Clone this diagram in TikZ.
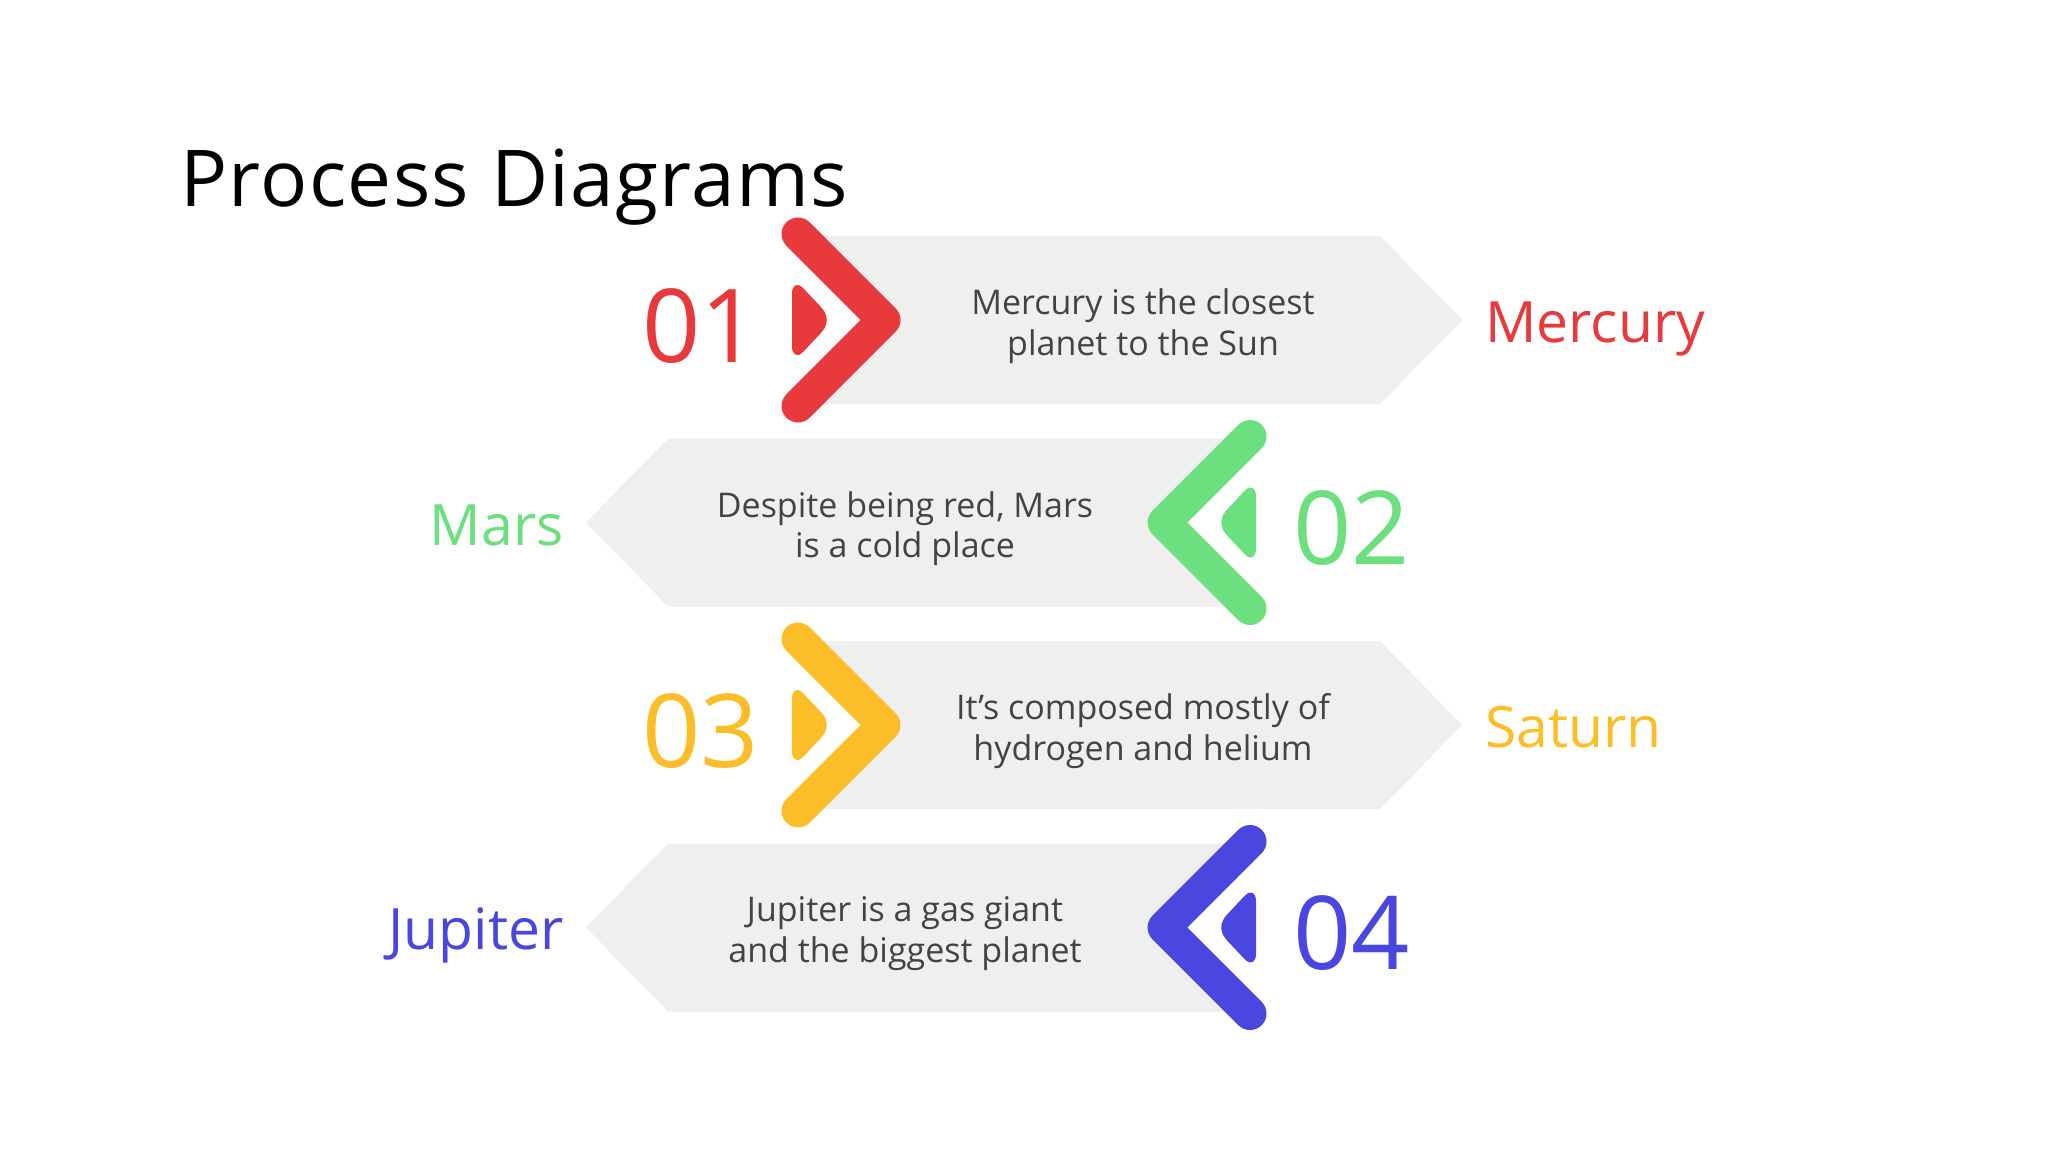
\documentclass[tikz,border=0pt]{standalone}
\usepackage{fontspec}
\setmainfont{Open Sans}
\newfontfamily\titlefont[LetterSpace=1.7]{Open Sans}
\definecolor{cred}{HTML}{E8393D}
\definecolor{cgreen}{HTML}{6CE07F}
\definecolor{cyellow}{HTML}{FBBE29}
\definecolor{cblue}{HTML}{4A47E0}
\definecolor{bannergray}{HTML}{EFEFEF}
\definecolor{descgray}{HTML}{434343}
\tikzset{
  banner/.style={fill=bannergray, draw=none},
  chev/.style={line width=16.5pt, line cap=round, line join=round},
  desc/.style={font=\fontsize{17}{20.25}\selectfont, text=descgray, align=center, inner sep=0pt},
  num/.style={font=\fontsize{51}{58}\selectfont, inner sep=0pt},
  lab/.style={font=\fontsize{28.5}{34}\selectfont, inner sep=0pt},
  ttl/.style={font=\titlefont\fontsize{39.2}{46}\selectfont, inner sep=0pt, text=black}
}
% right-pointing row: #1 = centre y, #2 = colour
\newcommand\rowright[2]{%
  \fill[banner] (805,{#1-84}) -- (1380,{#1-84}) -- (1462,#1) -- (1380,{#1+84}) -- (805,{#1+84}) -- (884,#1) -- cycle;
  \draw[chev,#2] (798,{#1-86}) -- (884,#1) -- (798,{#1+86});
  \fill[#2] (792,#1) -- (792,{#1-26}) .. controls (792,{#1-35}) and (797,{#1-38}) .. (803,{#1-32})
     -- (820,{#1-14}) .. controls (829,{#1-5}) and (829,{#1+5}) .. (820,{#1+14})
     -- (803,{#1+32}) .. controls (797,{#1+38}) and (792,{#1+35}) .. (792,{#1+26}) -- cycle;
}
\newcommand\rowleft[2]{%
  \fill[banner] (1243,{#1-84}) -- (668,{#1-84}) -- (586,#1) -- (668,{#1+84}) -- (1243,{#1+84}) -- (1164,#1) -- cycle;
  \draw[chev,#2] (1250,{#1-86}) -- (1164,#1) -- (1250,{#1+86});
  \fill[#2] (1256,#1) -- (1256,{#1-26}) .. controls (1256,{#1-35}) and (1251,{#1-38}) .. (1245,{#1-32})
     -- (1228,{#1-14}) .. controls (1219,{#1-5}) and (1219,{#1+5}) .. (1228,{#1+14})
     -- (1245,{#1+32}) .. controls (1251,{#1+38}) and (1256,{#1+35}) .. (1256,{#1+26}) -- cycle;
}
\begin{document}
\begin{tikzpicture}[x=0.5pt,y=-0.5pt]
\useasboundingbox[fill=white] (0,0) rectangle (2048,1152);

\node[ttl, anchor=base west] (title) at (180,206) {Process Diagrams};

\rowright{320}{cred}
\rowleft{522.5}{cgreen}
\rowright{725}{cyellow}
\rowleft{927.5}{cblue}

% row 1
\node[desc] (d1) at (1143,326) {Mercury is the closest\\planet to the Sun};
\node[num, text=cred, anchor=base west] (n1) at (642,362) {01};
\node[lab, text=cred, anchor=base west] (l1) at (1485,342) {Mercury};
% row 2
\node[desc] (d2) at (905,528.5) {Despite being red, Mars\\is a cold place};
\node[num, text=cgreen, anchor=base west] (n2) at (1293,564.5) {02};
\node[lab, text=cgreen, anchor=base east] (l2) at (564,545) {Mars};
% row 3
\node[desc] (d3) at (1143,731) {It’s composed mostly of\\hydrogen and helium};
\node[num, text=cyellow, anchor=base west] (n3) at (642,767) {03};
\node[lab, text=cyellow, anchor=base west] (l3) at (1485,747) {Saturn};
% row 4
\node[desc] (d4) at (905,933.5) {Jupiter is a gas giant\\and the biggest planet};
\node[num, text=cblue, anchor=base west] (n4) at (1293,969.5) {04};
\node[lab, text=cblue, anchor=base east] (l4) at (564,949.5) {Jupiter};
\end{tikzpicture}
\end{document}
